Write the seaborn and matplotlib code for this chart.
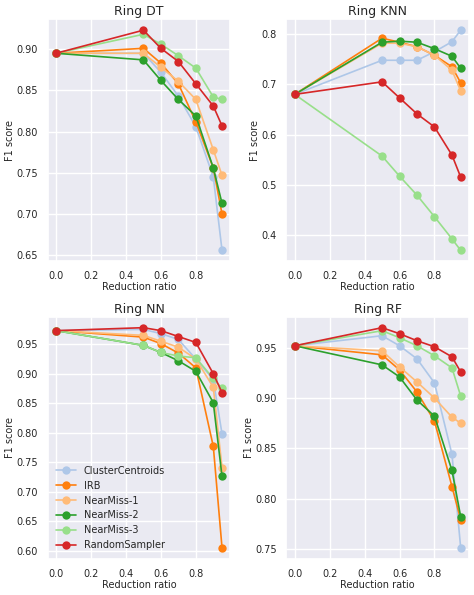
import matplotlib
matplotlib.use("Agg")
import matplotlib.pyplot as plt
import seaborn as sns
import pandas as pd

sns.set_theme(style="darkgrid")

ratios = [0.0, 0.5, 0.6, 0.7, 0.8, 0.9, 0.95]
methods = ["ClusterCentroids", "IRB", "NearMiss-1", "NearMiss-2", "NearMiss-3", "RandomSampler"]
colors = ["#aec7e8", "#ff7f0e", "#ffbb78", "#2ca02c", "#98df8a", "#d62728"]

dt = [
    [.895, .895, .872, .843, .806, .745, .656],
    [.895, .901, .883, .858, .812, .756, .700],
    [.895, .895, .878, .861, .839, .778, .747],
    [.895, .887, .862, .839, .819, .756, .713],
    [.895, .918, .906, .892, .877, .842, .839],
    [.895, .923, .901, .885, .858, .831, .807],
]
knn = [
    [.68, .748, .748, .748, .765, .785, .808],
    [.68, .792, .784, .775, .758, .735, .703],
    [.68, .782, .782, .775, .758, .728, .687],
    [.68, .784, .786, .784, .771, .756, .732],
    [.68, .557, .517, .479, .436, .392, .369],
    [.68, .705, .673, .641, .615, .559, .515],
]
nn = [
    [.973, .975, .968, .958, .925, .890, .798],
    [.973, .962, .951, .935, .910, .777, .605],
    [.973, .965, .955, .945, .925, .877, .741],
    [.973, .948, .936, .922, .904, .851, .726],
    [.973, .948, .936, .930, .927, .892, .875],
    [.973, .978, .973, .963, .953, .900, .868],
]
rf = [
    [.952, .962, .952, .939, .915, .844, .751],
    [.952, .943, .928, .906, .877, .812, .779],
    [.952, .947, .931, .916, .900, .881, .875],
    [.952, .933, .921, .898, .882, .828, .782],
    [.952, .967, .960, .952, .942, .930, .902],
    [.952, .970, .964, .957, .951, .941, .926],
]

panels = [("Ring DT", dt), ("Ring KNN", knn), ("Ring NN", nn), ("Ring RF", rf)]

fig, axes = plt.subplots(2, 2, figsize=(4.74, 5.95), dpi=100)
for ax, (title, data) in zip(axes.flat, panels):
    rows = []
    for m, vals in zip(methods, data):
        for r, v in zip(ratios, vals):
            rows.append({"ratio": r, "f1": v, "method": m})
    df = pd.DataFrame(rows)
    sns.lineplot(data=df, x="ratio", y="f1", hue="method", palette=colors,
                 marker="o", markersize=6, markeredgewidth=0, linewidth=1.2,
                 ax=ax, legend=(title == "Ring NN"))
    ax.set_title(title, fontsize=9, pad=3)
    ax.set_xlabel("Reduction ratio", fontsize=7, labelpad=1)
    ax.set_ylabel("F1 score", fontsize=7, labelpad=1)
    ax.tick_params(labelsize=7, pad=1)
    ax.set_xticks([0, 0.2, 0.4, 0.6, 0.8])
    if title == "Ring NN":
        ax.legend(title=None, fontsize=7, loc="lower left", frameon=False)

axes[0, 0].set_yticks([0.65, 0.70, 0.75, 0.80, 0.85, 0.90])
axes[0, 1].set_yticks([0.4, 0.5, 0.6, 0.7, 0.8])
axes[1, 0].set_yticks([0.60, 0.65, 0.70, 0.75, 0.80, 0.85, 0.90, 0.95])
axes[1, 1].set_yticks([0.75, 0.80, 0.85, 0.90, 0.95])

fig.tight_layout(pad=0.3, h_pad=0.6, w_pad=0.8)
fig.savefig("out.png", dpi=100)
